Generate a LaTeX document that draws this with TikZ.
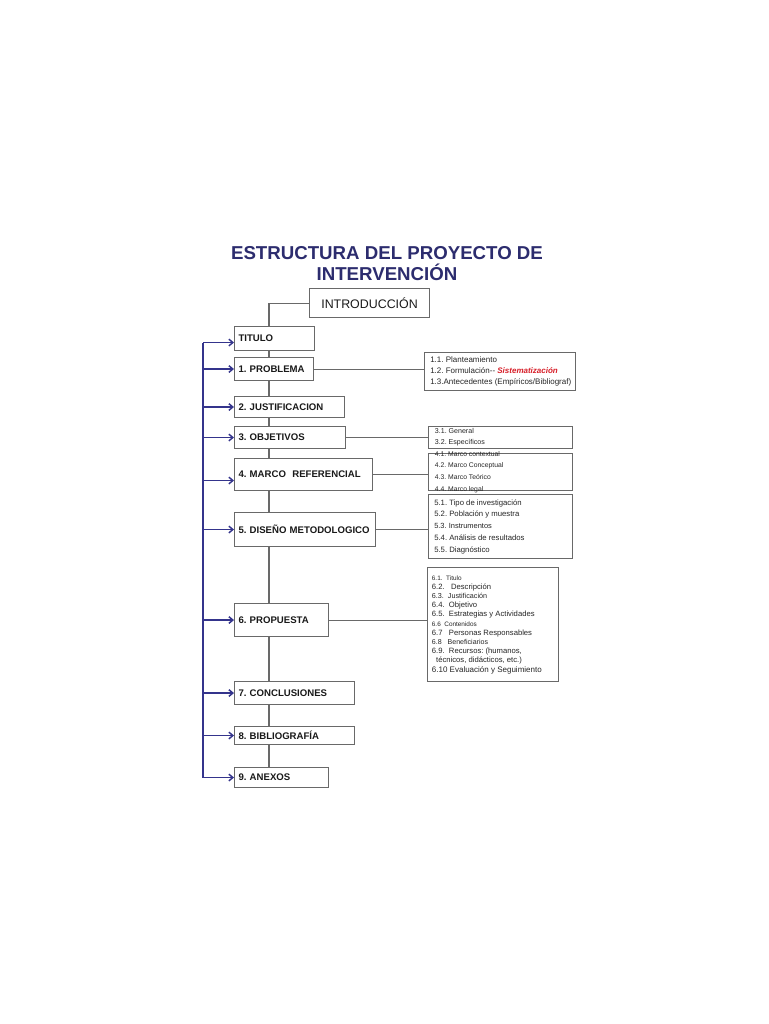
\documentclass[tikz,border=0pt]{standalone}
\usepackage{fontspec}
\setmainfont{Liberation Sans}
\usetikzlibrary{arrows.meta}
\frenchspacing

\definecolor{titleblue}{RGB}{44,44,110}
\definecolor{arrowblue}{RGB}{52,52,140}
\definecolor{linegray}{RGB}{105,105,105}
\definecolor{sisred}{RGB}{215,30,40}

\tikzset{
  mainbox/.style={draw=linegray, line width=0.8pt, fill=white, anchor=north west,
    inner xsep=3pt, inner ysep=0pt, align=left, text width=#1, text=black!90,
    font=\bfseries\fontsize{7.2pt}{8.5pt}\selectfont},
  itembox/.style={draw=linegray, line width=0.8pt, anchor=north west, inner sep=0pt},
  itemtext/.style={anchor=west, inner sep=0pt, align=left, text=black!85},
  conn/.style={draw=linegray, line width=0.8pt},
  leftarrow/.style={draw=arrowblue, line width=1.1pt, -{Straight Barb[length=3pt,width=5pt]}},
}

\begin{document}
\begin{tikzpicture}[x=0.75pt,y=-0.75pt]
  % 设置线的位置
  \def\spineX{269}
  \def\leftX{203}

  \fill[white] (0,0) rectangle (768,1024);
  \useasboundingbox (0,0) rectangle (768,1024);

  % 标题
  \node[align=center, text=titleblue, font=\bfseries\fontsize{14pt}{15.75pt}\selectfont] (title) at (387,264)
    {ESTRUCTURA DEL PROYECTO DE\\INTERVENCIÓN};

  % 左边的主框
  \node[draw=linegray, line width=0.8pt, fill=white, anchor=north west, minimum width=90pt,
    minimum height=21.75pt, inner sep=0pt, text=black!90, font=\fontsize{9.3pt}{11pt}\selectfont] (intro) at (309,288) {INTRODUCCIÓN};
  \node[mainbox=54pt, minimum height=18pt] (titulo) at (234,326) {TITULO};
  \node[mainbox=53.25pt, minimum height=17.25pt] (problema) at (234,357) {1. PROBLEMA};
  \node[mainbox=76.5pt, minimum height=15.75pt] (justif) at (234,396) {2. JUSTIFICACION};
  \node[mainbox=77.25pt, minimum height=16.5pt] (objetivos) at (234,426) {3. OBJETIVOS};
  \node[mainbox=97.5pt, minimum height=24pt] (marco) at (234,458) {4. MARCO\ \ REFERENCIAL};
  \node[mainbox=99.75pt, minimum height=25.5pt] (diseno) at (234,512) {5. DISEÑO METODOLOGICO};
  \node[mainbox=64.5pt, minimum height=24.75pt] (propuesta) at (234,603) {6. PROPUESTA};
  \node[mainbox=84pt, minimum height=17.25pt] (conclus) at (234,681) {7. CONCLUSIONES};
  \node[mainbox=84pt, minimum height=13.5pt] (biblio) at (234,726) {8. BIBLIOGRAFÍA};
  \node[mainbox=64.5pt, minimum height=15pt] (anexos) at (234,767) {9. ANEXOS};

  % 右边的小框
  \node[itembox, minimum width=113.25pt, minimum height=28.5pt] (p1) at (424,352) {};
  \node[itemtext, font=\fontsize{6pt}{8.25pt}\selectfont] (p1t) at ([xshift=4.5pt]p1.west)
    {1.1. Planteamiento\\1.2. Formulación-{}- {\color{sisred}\bfseries\itshape Sistematización}\\1.3.Antecedentes (Empíricos/Bibliograf)};

  \node[itembox, minimum width=108pt, minimum height=16.5pt] (p3) at (428,426) {};
  \node[itemtext, font=\fontsize{5.3pt}{8.25pt}\selectfont] (p3t) at ([xshift=5pt]p3.west)
    {3.1. General\\3.2. Específicos};

  \node[itembox, minimum width=108pt, minimum height=27.75pt] (p4) at (428,453) {};
  \node[itemtext, font=\fontsize{5.1pt}{8.8pt}\selectfont] (p4t) at ([xshift=5pt]p4.west)
    {4.1. Marco contextual\\4.2. Marco Conceptual\\4.3. Marco Teórico\\4.4. Marco legal};

  \node[itembox, minimum width=108pt, minimum height=48pt] (p5) at (428,494) {};
  \node[itemtext, font=\fontsize{5.8pt}{8.8pt}\selectfont] (p5t) at ([xshift=4.5pt]p5.west)
    {5.1. Tipo de investigación\\5.2. Población y muestra\\{\fontsize{5.6pt}{8.8pt}\selectfont 5.3. Instrumentos}\\5.4. Análisis de resultados\\5.5. Diagnóstico};

  \node[itembox, minimum width=98.25pt, minimum height=85.5pt] (p6) at (427,567) {};
  \node[itemtext, font=\fontsize{5.75pt}{6.9pt}\selectfont] (p6t) at ([xshift=3.5pt]p6.west)
    {{\fontsize{4.8pt}{6.9pt}\selectfont 6.1.\ \ Titulo}\\
     6.2.\ \ \ Descripción\\
     {\fontsize{5.4pt}{6.9pt}\selectfont 6.3.\ \ Justificación}\\
     6.4.\ \ Objetivo\\
     6.5.\ \ Estrategias y Actividades\\
     {\fontsize{4.8pt}{6.9pt}\selectfont 6.6\ \ Contenidos}\\
     6.7\ \ \ Personas Responsables\\
     {\fontsize{5.3pt}{6.9pt}\selectfont 6.8\ \ \ Beneficiarios}\\
     6.9.\ \ Recursos: (humanos,\\
     \ \ técnicos, didácticos, etc.)\\
     {\fontsize{6pt}{6.9pt}\selectfont 6.10 Evaluación y Seguimiento}};

  % 中间的竖线
  \coordinate (sp) at (\spineX,0);
  \draw[conn] (intro.west) -| (titulo.north -| sp);
  \foreach \a/\b in {titulo/problema, problema/justif, justif/objetivos, objetivos/marco,
      marco/diseno, diseno/propuesta, propuesta/conclus, conclus/biblio, biblio/anexos}
    \draw[conn] (\a.south -| sp) -- (\b.north -| sp);

  % 连接右边的小框
  \foreach \a/\b in {problema/p1, objetivos/p3, marco/p4, diseno/p5, propuesta/p6}
    \draw[conn] (\a.east) -- (\a.east -| \b.west);

  % 左边的蓝色箭头
  \coordinate (bl) at (\leftX,0);
  \coordinate (tw) at ([yshift=-3pt]titulo.west);
  \coordinate (mw) at ([yshift=-4.5pt]marco.west);
  \draw[arrowblue, line width=1.1pt] (bl |- tw) -- (bl |- anexos.west);
  \draw[leftarrow] (bl |- tw) -- (tw);
  \draw[leftarrow] (bl |- mw) -- (mw);
  \foreach \b in {problema, justif, objetivos, diseno, propuesta, conclus, biblio, anexos}
    \draw[leftarrow] (bl |- \b.west) -- (\b.west);
\end{tikzpicture}
\end{document}
